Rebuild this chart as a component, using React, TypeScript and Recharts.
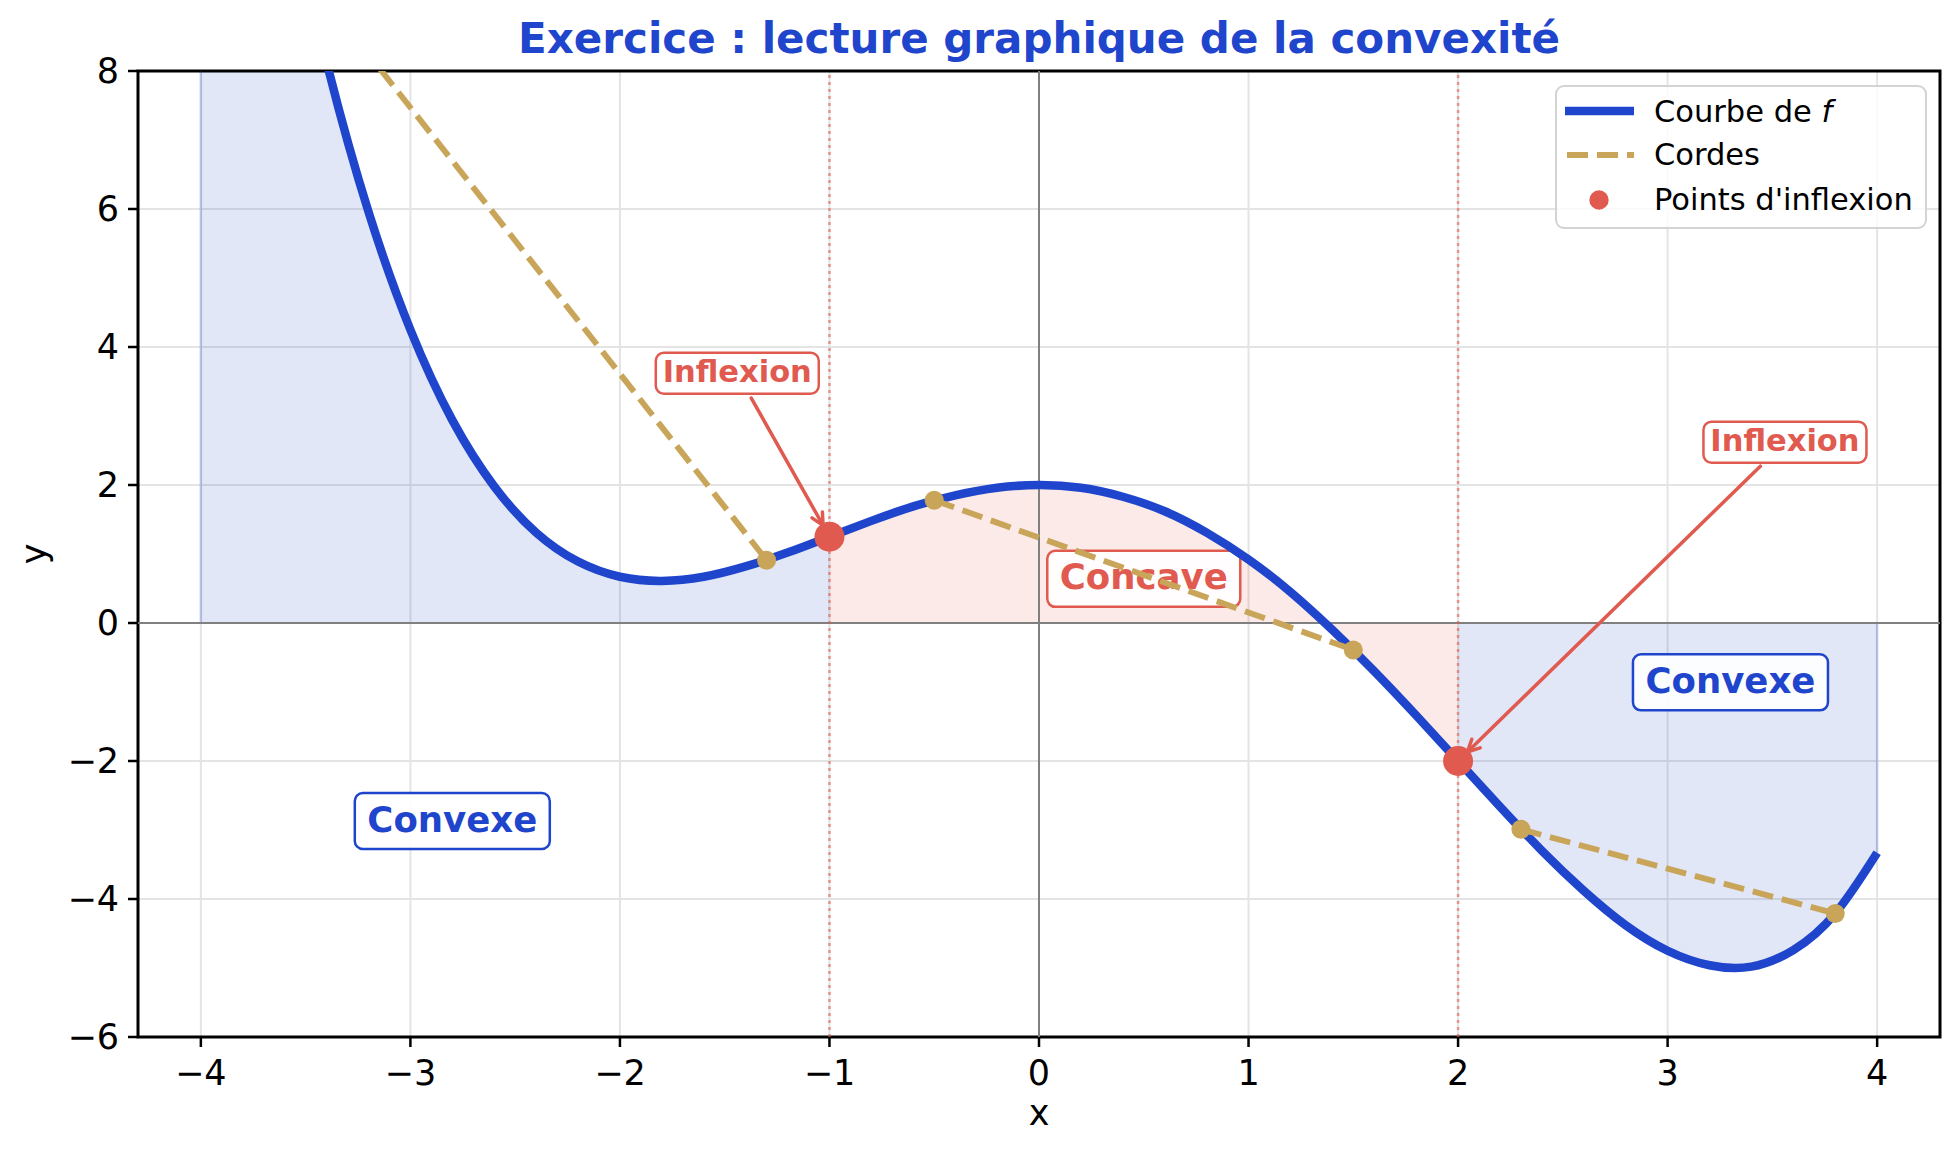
import {
  ComposedChart,
  Line,
  Area,
  XAxis,
  YAxis,
  CartesianGrid,
  ReferenceLine,
  ReferenceDot,
  ReferenceArea,
  Legend,
} from 'recharts'

const BLUE = '#1f45cc'
const RED = '#e05a4f'
const TAN = '#c9a55a'
const FONT = '"DejaVu Sans", sans-serif'

const curveX = [
  -4, -3.8, -3.6, -3.4, -3.2, -3, -2.8, -2.6, -2.4, -2.2, -2, -1.8, -1.6, -1.4,
  -1.2, -1, -0.8, -0.6, -0.4, -0.2, 0, 0.2, 0.4, 0.6, 0.8, 1, 1.2, 1.4, 1.6, 1.8,
  2, 2.2, 2.4, 2.6, 2.8, 3, 3.2, 3.4, 3.6, 3.8, 4,
]
const curveY = [
  18, 14.08, 10.81, 8.13, 5.96, 4.25, 2.94, 1.98, 1.31, 0.89, 0.67, 0.61, 0.67,
  0.82, 1.02, 1.25, 1.48, 1.69, 1.85, 1.96, 2, 1.96, 1.83, 1.62, 1.31, 0.92,
  0.45, -0.1, -0.7, -1.34, -2, -2.66, -3.3, -3.88, -4.38, -4.75, -4.96, -4.98,
  -4.74, -4.21, -3.33,
]

const xTicks = [-4, -3, -2, -1, 0, 1, 2, 3, 4]
const yTicks = [-6, -4, -2, 0, 2, 4, 6, 8]

// zones de convexité
const regionStart = [-4, -1, 2]
const regionEnd = [-1, 2, 4]
const regionConvex = [true, false, true]
const regionLabel = ['Convexe', 'Concave', 'Convexe']
const regionLabelX = [-2.8, 0.5, 3.3]
const regionLabelY = [-2.87, 0.64, -0.86]

// cordes
const chordStartX = [-3.5, -0.5, 2.3]
const chordStartY = [9.4, 1.78, -2.99]
const chordEndX = [-1.3, 1.5, 3.8]
const chordEndY = [0.91, -0.39, -4.21]

// points d'inflexion
const inflexionX = [-1, 2]
const inflexionY = [1.25, -2]
const inflexionLabelX = [-1.44, 3.56]
const inflexionLabelY = [3.62, 2.62]

const fmt = (v: number) => (v < 0 ? `\u2212${Math.abs(v)}` : `${v}`)

const boxShape =
  (text: string, color: string, w: number, h: number, fontSize: number) =>
  (props: any) => {
    const { cx, cy } = props
    if (cx == null || cy == null) return null
    return (
      <g>
        <rect
          x={cx - w / 2}
          y={cy - h / 2}
          width={w}
          height={h}
          rx={8}
          ry={8}
          fill="#fff"
          fillOpacity={0.9}
          stroke={color}
          strokeWidth={2.5}
        />
        <text
          x={cx}
          y={cy + fontSize * 0.3}
          textAnchor="middle"
          fontFamily={FONT}
          fontWeight="bold"
          fontSize={fontSize}
          fill={color}
        >
          {text}
        </text>
      </g>
    )
  }

// fleche "->" du texte vers le point, raccourcie aux deux bouts
const arrowShape = (props: any) => {
  const { x1, y1, x2, y2 } = props
  const len = Math.hypot(x2 - x1, y2 - y1) || 1
  const ux = (x2 - x1) / len
  const uy = (y2 - y1) / len
  const t0 =
    Math.min(81.5 / Math.max(Math.abs(ux), 1e-6), 20.5 / Math.max(Math.abs(uy), 1e-6)) + 5
  const sx = x1 + ux * t0
  const sy = y1 + uy * t0
  const ex = x2 - ux * 13
  const ey = y2 - uy * 13
  const bx = ex - ux * 12
  const by = ey - uy * 12
  return (
    <g stroke={RED} strokeWidth={3.5} fill="none" strokeLinecap="round">
      <line x1={sx} y1={sy} x2={ex} y2={ey} />
      <polyline
        points={`${bx - uy * 6},${by + ux * 6} ${ex},${ey} ${bx + uy * 6},${by - ux * 6}`}
      />
    </g>
  )
}

const LegendBox = () => (
  <svg width={372} height={144} style={{ display: 'block' }}>
    <rect x={1} y={1} width={370} height={142} rx={8} ry={8} fill="#fff" fillOpacity={0.8} stroke="#d3d3d3" strokeWidth={2} />
    <line x1={10} y1={26} x2={79} y2={26} stroke={BLUE} strokeWidth={8.5} />
    <text x={99} y={37} fontFamily={FONT} fontSize={30.5} fill="#000">
      Courbe de <tspan fontStyle="italic">f</tspan>
    </text>
    <line x1={12} y1={70} x2={79} y2={70} stroke={TAN} strokeWidth={5.9} strokeDasharray="21 9" />
    <text x={99} y={80} fontFamily={FONT} fontSize={30.5} fill="#000">
      Cordes
    </text>
    <circle cx={44} cy={115} r={9.7} fill={RED} />
    <text x={99} y={125} fontFamily={FONT} fontSize={30.5} fill="#000">
      Points d'inflexion
    </text>
  </svg>
)

const xLabel = (p: any) => {
  const vb = p.viewBox
  return (
    <text x={vb.x + vb.width / 2} y={vb.y + 88} textAnchor="middle" fontFamily={FONT} fontSize={35} fill="#000">
      x
    </text>
  )
}

const yLabel = (p: any) => {
  const vb = p.viewBox
  const cx = vb.x + 46
  const cy = vb.y + vb.height / 2
  return (
    <text x={cx} y={cy} transform={`rotate(-90, ${cx}, ${cy})`} textAnchor="middle" fontFamily={FONT} fontSize={35} fill="#000">
      y
    </text>
  )
}

export default function App() {
  const curveData = curveX.map((x, i) => ({ x, y: curveY[i] }))
  const regions = regionStart.map((a, i) => ({
    convex: regionConvex[i],
    data: curveData.filter((d) => d.x >= a && d.x <= regionEnd[i]),
  }))
  const chords = chordStartX.map((x, i) => [
    { x, y: chordStartY[i] },
    { x: chordEndX[i], y: chordEndY[i] },
  ])
  const lastX = regionEnd[regionEnd.length - 1]

  return (
    <div
      style={{
        position: 'absolute',
        left: 0,
        top: 0,
        width: 1959,
        height: 1157,
        background: '#fff',
        fontFamily: FONT,
      }}
    >
      <ComposedChart width={1959} height={1157} margin={{ top: 71, right: 19, bottom: 0, left: 0 }}>
        <CartesianGrid stroke="#e4e4e4" strokeWidth={2} />
        <XAxis
          dataKey="x"
          type="number"
          domain={[-4.3, 4.3]}
          ticks={xTicks}
          interval={0}
          allowDataOverflow
          tickFormatter={fmt}
          height={120}
          axisLine={false}
          tickLine={{ stroke: '#000', strokeWidth: 2.5 }}
          tickSize={10}
          tickMargin={13}
          tick={{ fill: '#000', fontSize: 35, fontFamily: FONT }}
          label={{ content: xLabel }}
        />
        <YAxis
          type="number"
          domain={[-6, 8]}
          ticks={yTicks}
          interval={0}
          allowDataOverflow
          tickFormatter={fmt}
          width={138}
          axisLine={false}
          tickLine={{ stroke: '#000', strokeWidth: 2.5 }}
          tickSize={10}
          tickMargin={9}
          tick={{ fill: '#000', fontSize: 35, fontFamily: FONT }}
          label={{ content: yLabel }}
        />

        {regions.map((r, i) => (
          <Area
            key={`region-${i}`}
            data={r.data}
            dataKey="y"
            type="natural"
            baseValue={0}
            fill={r.convex ? BLUE : RED}
            fillOpacity={0.13}
            stroke="none"
            legendType="none"
            isAnimationActive={false}
          />
        ))}
        <ReferenceLine
          segment={[{ x: curveX[0], y: 0 }, { x: curveX[0], y: curveY[0] }]}
          stroke={BLUE}
          strokeOpacity={0.2}
          strokeWidth={2.5}
          ifOverflow="hidden"
        />
        <ReferenceLine
          segment={[{ x: lastX, y: 0 }, { x: lastX, y: curveY[curveY.length - 1] }]}
          stroke={BLUE}
          strokeOpacity={0.2}
          strokeWidth={2.5}
          ifOverflow="hidden"
        />

        <ReferenceLine y={0} stroke="#808080" strokeWidth={2} />
        <ReferenceLine x={0} stroke="#808080" strokeWidth={2} />
        {inflexionX.map((x) => (
          <ReferenceLine
            key={`vline-${x}`}
            x={x}
            stroke={RED}
            strokeOpacity={0.6}
            strokeWidth={2.5}
            strokeDasharray="3 4"
          />
        ))}

        {regionLabel.map((t, i) => (
          <ReferenceDot
            key={`region-label-${i}`}
            x={regionLabelX[i]}
            y={regionLabelY[i]}
            r={0}
            zIndex={350}
            shape={boxShape(t, regionConvex[i] ? BLUE : RED, regionConvex[i] ? 195 : 193, 56, 35.5)}
          />
        ))}

        <Line
          data={curveData}
          dataKey="y"
          type="natural"
          stroke={BLUE}
          strokeWidth={8.5}
          dot={false}
          legendType="none"
          isAnimationActive={false}
        />

        {chords.map((c, i) => (
          <Line
            key={`chord-${i}`}
            data={c}
            dataKey="y"
            type="linear"
            stroke={TAN}
            strokeWidth={5.9}
            strokeDasharray="21 9"
            dot={(p: any) => <circle key={`cd-${i}-${p.index}`} cx={p.cx} cy={p.cy} r={9.5} fill={TAN} />}
            legendType="none"
            isAnimationActive={false}
          />
        ))}

        {inflexionX.map((x, i) => (
          <ReferenceDot key={`ip-${i}`} x={x} y={inflexionY[i]} r={15} fill={RED} stroke="none" />
        ))}

        {inflexionX.map((x, i) => (
          <ReferenceLine
            key={`arrow-${i}`}
            segment={[
              { x: inflexionLabelX[i], y: inflexionLabelY[i] },
              { x, y: inflexionY[i] },
            ]}
            shape={arrowShape}
          />
        ))}
        {inflexionX.map((x, i) => (
          <ReferenceDot
            key={`ip-label-${i}`}
            x={inflexionLabelX[i]}
            y={inflexionLabelY[i]}
            r={0}
            shape={boxShape('Inflexion', RED, 163, 41, 30.5)}
          />
        ))}

        <ReferenceArea
          x1={-4.3}
          x2={4.3}
          y1={-6}
          y2={8}
          fill="none"
          stroke="#000"
          strokeWidth={3}
          ifOverflow="visible"
        />

        <Legend
          content={() => <LegendBox />}
          layout="horizontal"
          verticalAlign="middle"
          align="center"
          wrapperStyle={{ left: 1555, top: 85, width: 372, height: 144 }}
        />
      </ComposedChart>
      <div
        style={{
          position: 'absolute',
          left: 138,
          top: 18,
          width: 1802,
          textAlign: 'center',
          fontSize: 42,
          lineHeight: '42px',
          fontWeight: 'bold',
          color: BLUE,
          fontFamily: FONT,
        }}
      >
        Exercice : lecture graphique de la convexité
      </div>
    </div>
  )
}
